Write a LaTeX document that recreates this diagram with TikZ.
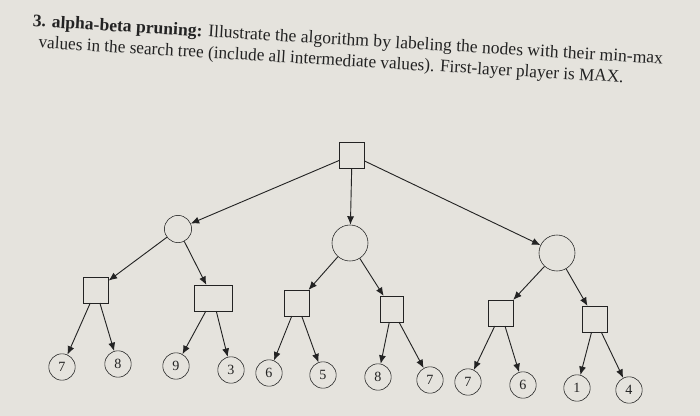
\documentclass[tikz,border=0pt]{standalone}
\usepackage{fontspec}
\setmainfont{Liberation Serif}
\usetikzlibrary{arrows.meta,positioning}
\definecolor{paper}{RGB}{229,227,221}
\definecolor{ink}{RGB}{35,35,35}

\begin{document}
\begin{tikzpicture}[x=0.025cm,y=-0.025cm,
  maxnode/.style={draw=ink,minimum width=0.62cm,minimum height=0.64cm,inner sep=0pt},
  minnode/.style={draw=ink,circle,minimum size=0.9cm,inner sep=0pt},
  leaf/.style={draw=ink,circle,minimum size=0.66cm,inner sep=0pt,font=\normalsize,text=ink},
  edge/.style={draw=ink,line width=0.65pt,-{Latex[length=6pt,width=5pt]}}]
% Background
\fill[paper] (0,0) rectangle (700,416);
% Question text
\node[anchor=north west,rotate=-3.4,align=left,inner sep=0pt,text=ink,
  font=\fontsize{12.5}{15}\selectfont] (question) at (33,14)
  {\textbf{3. alpha-beta pruning:} Illustrate the algorithm by labeling the nodes with their min-max\\
   \hspace{5pt}\scalebox{0.98}[1]{values in the search tree (include all intermediate values). First-layer player is MAX.}};
% Root (MAX)
\node[maxnode] (root) at (352,155) {};
% MIN layer
\node[minnode,minimum size=0.68cm] (a) at (178,229) {};
\node[minnode] (b) at (350,243) {};
\node[minnode] (c) at (557,253) {};
% MAX layer
\node[maxnode] (a1) at (96,290) {};
\node[maxnode,minimum width=0.95cm] (a2) at (213,298) {};
\node[maxnode] (b1) at (297,303) {};
\node[maxnode,minimum width=0.58cm] (b2) at (392,309) {};
\node[maxnode] (c1) at (501,313) {};
\node[maxnode] (c2) at (595,319) {};
% Leaves
\foreach \n/\x/\y/\v in {l1/62/367/7, l2/118/364/8, l3/176/366/9, l4/231/370/3,
    l5/269/373/6, l6/323/375/5, l7/378/377/8, l8/430/380/7,
    l9/468/382/7, l10/523/385/6, l11/577/388/1, l12/629/390/4} {
  \node[leaf] (\n) at (\x,\y) {\v};
}
% Edges
\foreach \p/\c in {root/a, root/b, root/c, a/a1, a/a2, b/b1, b/b2, c/c1, c/c2,
    a1/l1, a1/l2, a2/l3, a2/l4, b1/l5, b1/l6, b2/l7, b2/l8, c1/l9, c1/l10, c2/l11, c2/l12} {
  \draw[edge] (\p) -- (\c);
}
\end{tikzpicture}
\end{document}
